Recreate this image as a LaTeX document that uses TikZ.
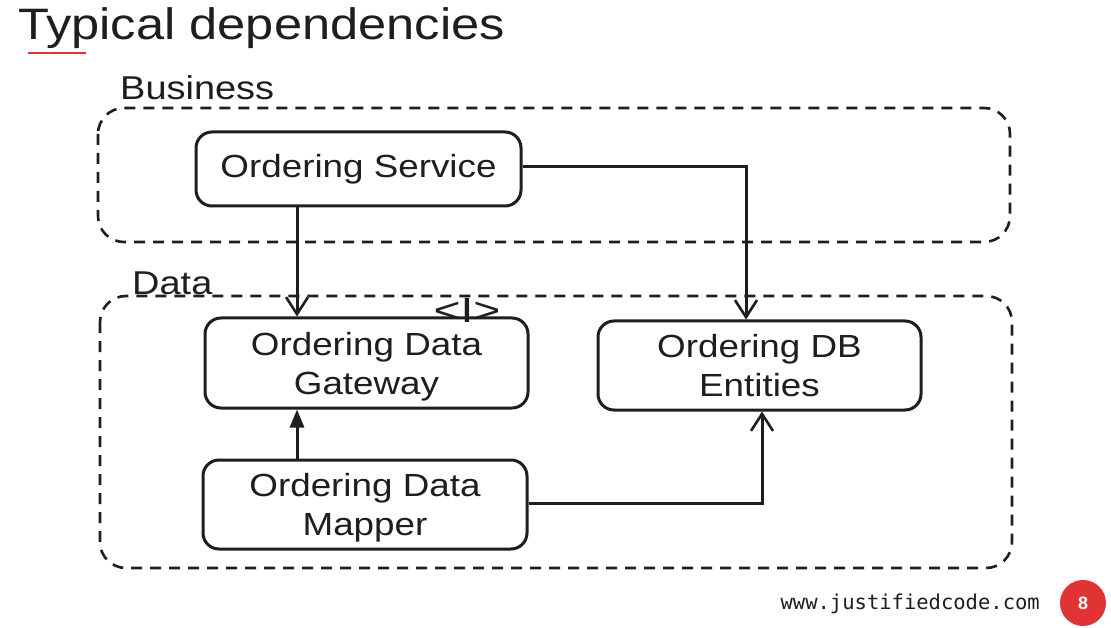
\documentclass[tikz,border=0pt]{standalone}
\usepackage{fontspec}
\setmainfont{Liberation Sans}
\newfontfamily\hand[FakeStretch=1.15]{Liberation Sans}
\newfontfamily\urlfont{DejaVu Sans Mono}
\usetikzlibrary{arrows.meta}
\definecolor{badge}{HTML}{E03434}
\definecolor{ink}{HTML}{1E1E1E}
\begin{document}
\begin{tikzpicture}[x=1pt,y=-1pt,
  layer/.style={draw=ink,line width=2.6pt,dash pattern=on 11pt off 8pt,rounded corners=26pt},
  compbox/.style={draw=ink,line width=3pt,rounded corners=16pt,align=center,
    font=\hand\fontsize{32}{39}\selectfont,text=ink,inner sep=0pt},
  twoline/.style={text depth=0pt},
  dep/.style={draw=ink,line width=3pt,-{Straight Barb[length=17pt,width=22pt,line width=2.6pt]}},
  impl/.style={draw=ink,line width=3pt,-{Triangle[length=18pt,width=14pt]}},
  lbl/.style={font=\hand\fontsize{33}{38}\selectfont,text=ink,anchor=west,inner sep=0pt}]
\useasboundingbox (0,0) rectangle (1111,628);
\fill[white] (0,0) rectangle (1111,628);
% title
\node[font=\hand\fontsize{44}{50}\selectfont,text=ink,anchor=west,inner sep=0pt] (title) at (18,28) {Typical dependencies};
\coordinate (ulA) at (28,53);
\coordinate (ulB) at (86,53);
\draw[badge,line width=2.8pt] (ulA) -- (ulB);
% layers
\draw[layer] (98,108) rectangle (1010,242);
\node[lbl] (business) at (120,88) {Business};
\draw[layer] (100,296) rectangle (1012,568);
\node[lbl] (data) at (132,283) {Data};
% components
\node[compbox,minimum width=325pt,minimum height=74pt] (service) at (358.5,169) {Ordering Service};
\node[compbox,twoline,minimum width=323pt,minimum height=90pt] (gateway) at (366.5,363) {Ordering Data\\Gateway};
\node[compbox,minimum width=323pt,minimum height=89pt] (entities) at (759.5,365.5) {Ordering DB\\Entities};
\node[compbox,twoline,minimum width=324pt,minimum height=89pt] (mapper) at (365,504.5) {Ordering Data\\Mapper};
\node[font=\hand\fontsize{35}{38}\selectfont,text=ink,inner sep=0pt,xscale=1.15] (iface) at (467,310) {<I>};
% connectors
\coordinate (c1) at (746,167);
\coordinate (c2) at (762,503);
\draw[dep] (service.south -| 297,0) -- (gateway.north -| 297,0);
\draw[dep] (service.east |- c1) -- (c1) -- (entities.north -| c1);
\draw[impl] (mapper.north -| 297,0) -- (gateway.south -| 297,0);
\draw[dep] (mapper.east |- c2) -- (c2) -- (entities.south -| c2);
% footer
\node[font=\urlfont\fontsize{20.5}{24}\selectfont,text=ink,anchor=east,inner sep=0pt] (url) at (1040,604) {www.justifiedcode.com};
\node[circle,fill=badge,minimum size=46pt,inner sep=0pt,text=white,font=\bfseries\fontsize{18}{20}\selectfont] (page) at (1083,603) {8};
\end{tikzpicture}
\end{document}
